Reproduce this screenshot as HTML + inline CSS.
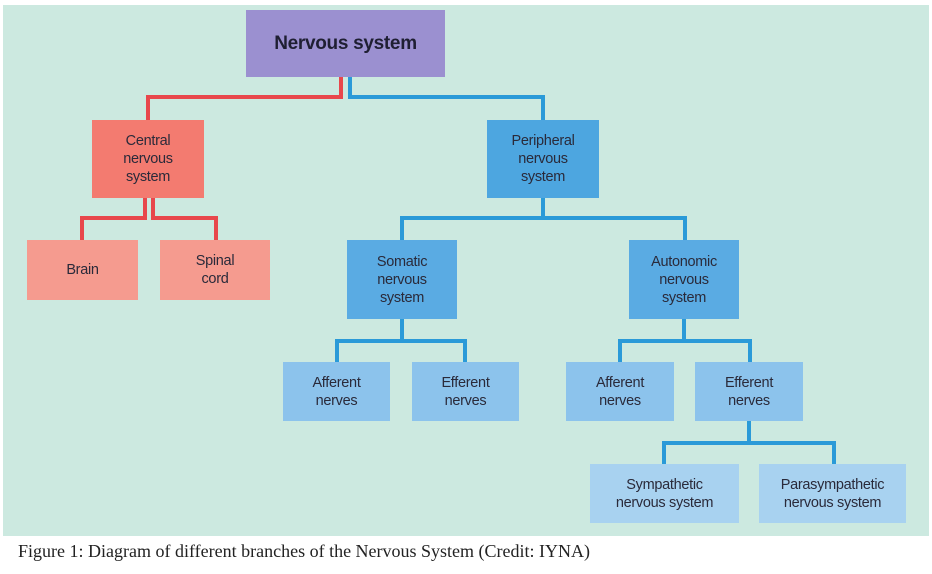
<!DOCTYPE html>
<html><head><style>
body{margin:0;width:932px;height:574px;background:#fff;position:relative;overflow:hidden;font-family:"Liberation Sans",Arial,sans-serif}
.bg{position:absolute;left:3px;top:5px;width:926px;height:531px;background:#cce9e0}
.b{position:absolute;display:flex;align-items:center;justify-content:center;text-align:center;font-size:14.5px;line-height:18px;color:#2a2a3a;letter-spacing:-0.3px}
svg{position:absolute;left:0;top:0}
.cap{position:absolute;left:18px;top:541px;font-family:"Liberation Serif",serif;font-size:18px;color:#222}
</style></head><body>
<div class="bg"></div>
<svg width="932" height="574" fill="none" stroke-width="4">
<g stroke="#e8474c">
<path d="M341 77V97H148V120"/>
<path d="M145 198V218H82V240"/>
<path d="M153 198V218H216V240"/>
</g>
<g stroke="#2a9ad8">
<path d="M350 77V97H543V120"/>
<path d="M543 198V218H402V240M543 218H685V240"/>
<path d="M402 319V341H337V362M402 341H465V362"/>
<path d="M684 319V341H620V362M684 341H750V362"/>
<path d="M749 421V443H664V464M749 443H834V464"/>
</g>
</svg>
<div class="b" style="left:246px;top:10px;width:199px;height:67px;background:#9b90d0;font-weight:bold;font-size:19px;color:#1f1f33">Nervous system</div>
<div class="b" style="left:92px;top:120px;width:112px;height:78px;background:#f37b70">Central<br>nervous<br>system</div>
<div class="b" style="left:27px;top:240px;width:111px;height:60px;background:#f59b8f">Brain</div>
<div class="b" style="left:160px;top:240px;width:110px;height:60px;background:#f59b8f">Spinal<br>cord</div>
<div class="b" style="left:487px;top:120px;width:112px;height:78px;background:#4da6e0">Peripheral<br>nervous<br>system</div>
<div class="b" style="left:347px;top:240px;width:110px;height:79px;background:#5aabe3">Somatic<br>nervous<br>system</div>
<div class="b" style="left:629px;top:240px;width:110px;height:79px;background:#5aabe3">Autonomic<br>nervous<br>system</div>
<div class="b" style="left:283px;top:362px;width:107px;height:59px;background:#8cc3ec">Afferent<br>nerves</div>
<div class="b" style="left:412px;top:362px;width:107px;height:59px;background:#8cc3ec">Efferent<br>nerves</div>
<div class="b" style="left:566px;top:362px;width:108px;height:59px;background:#8cc3ec">Afferent<br>nerves</div>
<div class="b" style="left:695px;top:362px;width:108px;height:59px;background:#8cc3ec">Efferent<br>nerves</div>
<div class="b" style="left:590px;top:464px;width:149px;height:59px;background:#a8d2f0">Sympathetic<br>nervous system</div>
<div class="b" style="left:759px;top:464px;width:147px;height:59px;background:#a8d2f0">Parasympathetic<br>nervous system</div>
<div class="cap">Figure 1: Diagram of different branches of the Nervous System (Credit: IYNA)</div>
</body></html>
